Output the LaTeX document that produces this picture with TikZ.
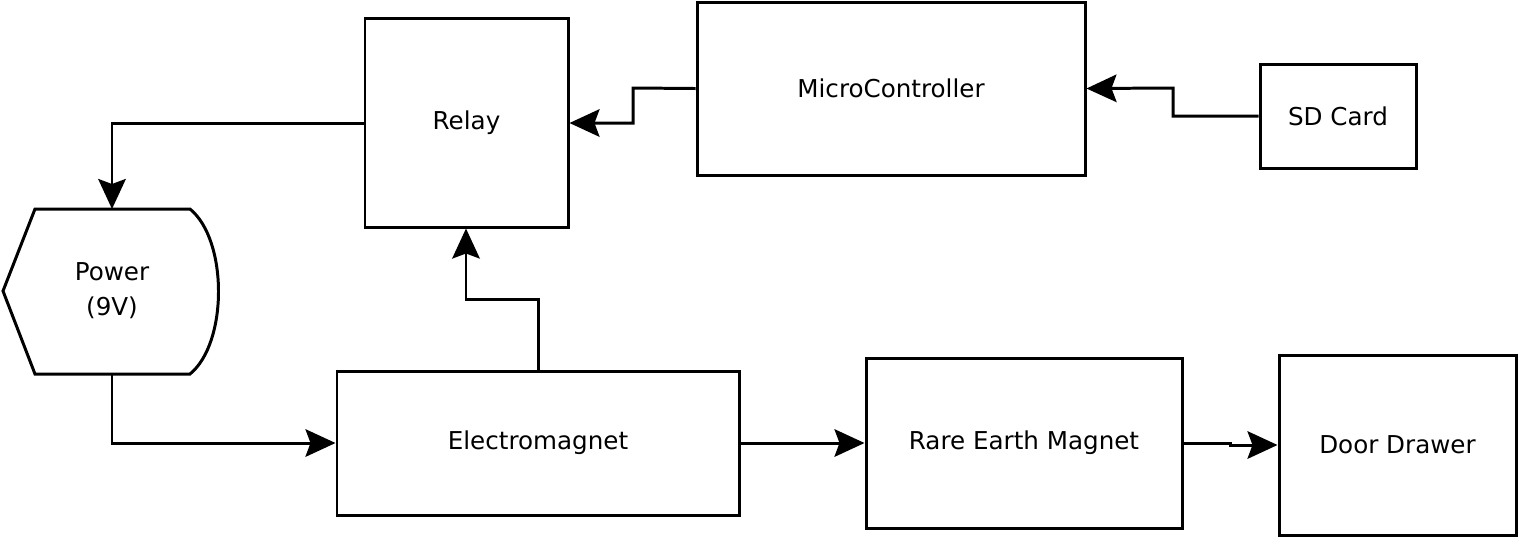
\documentclass[tikz,border=0pt]{standalone}
\usepackage{fontspec}
\setmainfont{DejaVu Sans}
\usetikzlibrary{arrows.meta}
\begin{document}
\begin{tikzpicture}[x=0.02cm,y=-0.02cm,
  box/.style={draw,line width=1.7pt,inner sep=0,font=\fontsize{14}{18}\selectfont},
  conn/.style={line width=1.7pt,-{Stealth[length=0.6cm,width=0.55cm,inset=0.1cm]}}]
\useasboundingbox (0,0) rectangle (1521,539);
\node[box,minimum width=203*0.02cm,minimum height=209*0.02cm] (relay) at (466.5,122.5) {Relay};
\node[box,minimum width=388*0.02cm,minimum height=173*0.02cm] (mc) at (891,88.5) {MicroController};
\node[box,minimum width=156*0.02cm,minimum height=104*0.02cm] (sd) at (1338,116) {SD Card};
\node[box,minimum width=402*0.02cm,minimum height=144*0.02cm] (em) at (538,443) {Electromagnet};
\node[box,minimum width=316*0.02cm,minimum height=170*0.02cm] (re) at (1024,443) {Rare Earth Magnet};
\node[box,minimum width=237*0.02cm,minimum height=180*0.02cm] (dd) at (1397.5,445) {Door Drawer};
% Power shape
\draw[line width=1.7pt] (35,209) -- (190,209) .. controls (228,240) and (228,343) .. (190,374) -- (35,374) -- (3,291) -- cycle;
\node[font=\fontsize{14}{20}\selectfont,align=center] (pw) at (112,291) {Power\\(9V)};
\coordinate (pwt) at (112,209);
\coordinate (pwb) at (112,374);
% connectors
\draw[conn] (relay.west |- 0,123) -| (pwt);
\draw[conn] (mc.west) -- (633,88) -- (633,123) -- (relay.east |- 0,123);
\draw[conn] (sd.west) -- (1173,116) -- (1173,88) -- (mc.east);
\draw[conn] (pwb) |- (em.west);
\draw[conn] (em.north) -- (538,299) -- (466,299) -- (relay.south -| 466,0);
\draw[conn] (em.east) -- (re.west);
\draw[conn] (re.east) -- (1230,443) -- (1230,445) -- (dd.west);
\end{tikzpicture}
\end{document}
